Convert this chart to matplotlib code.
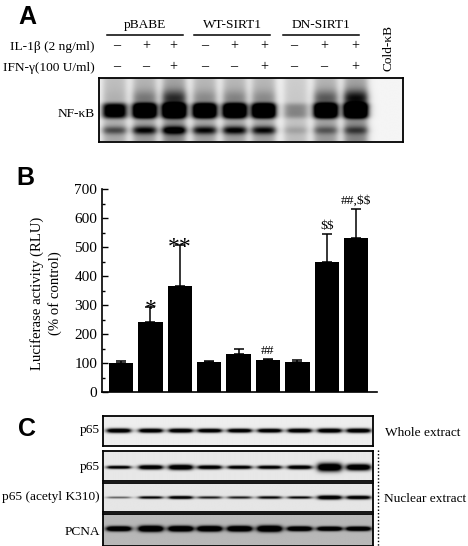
import numpy as np
import matplotlib
matplotlib.use("Agg")
import matplotlib.pyplot as plt

plt.rcParams["font.family"] = ["Liberation Serif", "DejaVu Serif"]

W, H = 468, 546
FS = 9.6

# ---- panel A: EMSA ----
groups = ["pBABE", "WT-SIRT1", "DN-SIRT1"]
il1b = ["–", "+", "+", "–", "+", "+", "–", "+", "+"]
ifng = ["–", "–", "+", "–", "–", "+", "–", "–", "+"]
# band darkness per lane (last lane = cold kB competitor)
gel_main = [0.75, 1.0, 1.0, 1.0, 1.0, 1.0, 0.2, 1.0, 1.0, 0.0]
gel_lower = [0.4, 0.65, 0.8, 0.65, 0.7, 0.65, 0.12, 0.3, 0.35, 0.0]
gel_smear = [0.3, 0.36, 0.45, 0.34, 0.34, 0.34, 0.22, 0.36, 0.45, 0.0]
gel_upper = [0.05, 0.35, 0.75, 0.25, 0.3, 0.25, 0.0, 0.55, 0.95, 0.0]

# ---- panel B: luciferase ----
luc_mean = [101, 243, 365, 105, 131, 110, 102, 450, 532]
luc_err = [7, 50, 143, 2, 19, 5, 8, 96, 98]
luc_sig = ["", "*", "**", "", "", "##", "", "$$", "##,$$"]

# ---- panel C: western blots ----
blot_names = ["p65", "p65", "p65 (acetyl K310)", "PCNA"]
blot_dark = [
    [0.95, 0.95, 0.95, 0.95, 0.95, 0.95, 0.95, 0.95, 0.95],
    [0.85, 0.95, 1.0, 0.9, 0.85, 0.85, 0.9, 1.0, 1.0],
    [0.4, 0.75, 0.9, 0.6, 0.6, 0.7, 0.7, 0.95, 0.9],
    [0.95, 1.0, 1.0, 1.0, 1.0, 1.0, 0.95, 0.95, 0.95],
]
blot_thick = [
    [2.2, 2.1, 2.1, 2.0, 2.0, 2.0, 2.1, 2.2, 2.2],
    [1.6, 2.2, 2.6, 2.0, 1.8, 1.8, 2.0, 4.2, 3.2],
    [1.0, 1.3, 1.5, 1.3, 1.3, 1.4, 1.3, 2.0, 1.8],
    [2.4, 2.9, 2.7, 2.7, 2.7, 3.0, 2.3, 2.1, 2.1],
]
blot_bg = [0.07, 0.09, 0.1, 0.28]


def px_axes(fig, x0, y0, x1, y1):
    ax = fig.add_axes([x0 / W, 1 - y1 / H, (x1 - x0) / W, (y1 - y0) / H])
    ax.set_xlim(x0, x1)
    ax.set_ylim(y1, y0)
    ax.set_xticks([])
    ax.set_yticks([])
    for s in ax.spines.values():
        s.set_linewidth(1.3)
    return ax


def lane_shape(x, c, hw, soft=1.5):
    return 1.0 / (1.0 + np.exp((np.abs(x - c) - hw) / soft))


def txt(fig, x, y, s, **kw):
    fig.text(x / W, 1 - y / H, s, parse_math=False, **kw)


fig = plt.figure(figsize=(W / 100, H / 100), dpi=100)

# panel letters
for letter, (x, y) in zip("ABC", [(27, 17), (25, 178), (27, 429)]):
    txt(fig, x, y, letter, family="Liberation Sans", weight="bold",
        fontsize=18, ha="center", va="center")

# ---- A ----
lane_x = [114, 144, 173.5, 204, 234, 263, 295, 325, 355, 388]
sign_x = [117, 146, 173, 205, 234, 264, 294, 324, 355]
line_spans = [(107, 183), (194, 270), (283, 359)]
for g, (a, b) in zip(groups, line_spans):
    txt(fig, (a + b) / 2, 25, g, fontsize=FS, ha="center", va="center")
    fig.add_artist(plt.Line2D([a / W, b / W], [1 - 35 / H] * 2, color="k", lw=1.1))
txt(fig, 95, 47, "IL-1β (2 ng/ml)", fontsize=FS, ha="right", va="center")
txt(fig, 95, 68, "IFN-γ(100 U/ml)", fontsize=FS, ha="right", va="center")
for x, a, b in zip(sign_x, il1b, ifng):
    txt(fig, x, 46, a, fontsize=FS + 0.6, ha="center", va="center")
    txt(fig, x, 67, b, fontsize=FS + 0.6, ha="center", va="center")
txt(fig, 389, 48, "Cold-κB", fontsize=FS, rotation=90, ha="center", va="center")
txt(fig, 95, 114, "NF-κB", fontsize=FS, ha="right", va="center")

gx0, gy0, gx1, gy1 = 98.5, 78, 403, 141.5
axg = px_axes(fig, gx0, gy0, gx1, gy1)
xx, yy = np.meshgrid(np.linspace(gx0, gx1, 900), np.linspace(gy0, gy1, 200))
dark = np.full(xx.shape, 0.04)
for c, m, lo, sm, up in zip(lane_x, gel_main, gel_lower, gel_smear, gel_upper):
    prof = lane_shape(xx, c, 11.5, 2.0)
    v = sm * (0.7 + 0.3 * (yy - gy0) / (gy1 - gy0))
    v = v + up * 0.6 * np.exp(-((yy - 99) / 8) ** 2)
    v = v + m * 1.3 * np.exp(-((yy - 111.5) / 7.5) ** 4)
    v = v + lo * np.exp(-((yy - 131) / 4.0) ** 2)
    dark = dark + prof * v
img = 1 - np.clip(dark, 0, 1)
axg.imshow(img, cmap="gray", vmin=0, vmax=1, aspect="auto",
           extent=(gx0, gx1, gy1, gy0), interpolation="bilinear")
axg.set_xlim(gx0, gx1)
axg.set_ylim(gy1, gy0)

# ---- B ----
axb = fig.add_axes([101.5 / W, 1 - 392 / H, (377 - 101.5) / W, (392 - 189) / H])
pos = np.arange(1, len(luc_mean) + 1)
axb.bar(pos, luc_mean, width=0.83, color="k", zorder=2)
axb.errorbar(pos, luc_mean, yerr=[np.zeros(len(luc_err)), luc_err], fmt="none",
             ecolor="k", elinewidth=1.1, capsize=3.5, capthick=1.1, zorder=3)
for p, m, e, s in zip(pos, luc_mean, luc_err, luc_sig):
    if not s:
        continue
    if "*" in s:
        axb.annotate(s, (p, m + e), xytext=(0, -6), textcoords="offset points",
                     ha="center", va="baseline", fontsize=17, parse_math=False)
    else:
        axb.annotate(s, (p, m + e), xytext=(0, 1.5), textcoords="offset points",
                     ha="center", va="bottom", fontsize=FS, parse_math=False)
axb.set_xlim(0.34, 9.71)
axb.set_ylim(0, 700)
axb.set_yticks(range(0, 701, 100))
axb.set_yticks(range(50, 700, 100), minor=True)
axb.set_xticks([])
axb.set_xticks(np.arange(1.5, 10, 1), minor=True)
axb.tick_params(axis="y", which="major", direction="in", length=4.5, width=1, labelsize=11, pad=3)
axb.tick_params(axis="y", which="minor", direction="in", length=2.5, width=1)
axb.tick_params(axis="x", which="minor", direction="in", length=2.5, width=1, colors="w")
axb.spines["top"].set_visible(False)
axb.spines["right"].set_visible(False)
axb.spines["left"].set_linewidth(1.2)
axb.spines["bottom"].set_linewidth(1.2)
txt(fig, 37, 293, "Luciferase activity (RLU)", fontsize=10.6, rotation=90, ha="center", va="center")
txt(fig, 55, 293, "(% of control)", fontsize=10.6, rotation=90, ha="center", va="center")

# ---- C ----
blot_lane_x = [119, 151, 181, 210, 240, 270, 300, 330, 359]
strips = [(416, 445.7, 430.5), (450.7, 480.7, 467), (483.3, 511.7, 497.5), (514, 545.5, 529.5)]
label_y = [430, 467, 497, 532]
bx0, bx1 = 103.3, 373.3
for (y0, y1, yc), name, ly, dk, th, bg in zip(strips, blot_names, label_y,
                                             blot_dark, blot_thick, blot_bg):
    ax = px_axes(fig, bx0, y0, bx1, y1)
    xx, yy = np.meshgrid(np.linspace(bx0, bx1, 800), np.linspace(y0, y1, 120))
    dark = np.full(xx.shape, bg)
    for c, d, t in zip(blot_lane_x, dk, th):
        dark = dark + lane_shape(xx, c, 11.5, 1.8) * d * 1.4 * np.exp(-((yy - yc) / t) ** 2)
    img = 1 - np.clip(dark, 0, 1)
    ax.imshow(img, cmap="gray", vmin=0, vmax=1, aspect="auto",
              extent=(bx0, bx1, y1, y0), interpolation="bilinear")
    ax.set_xlim(bx0, bx1)
    ax.set_ylim(y1, y0)
    txt(fig, 100, ly, name, fontsize=FS, ha="right", va="center")

txt(fig, 385, 433, "Whole extract", fontsize=FS, ha="left", va="center")
txt(fig, 384, 499, "Nuclear extract", fontsize=FS, ha="left", va="center")
fig.add_artist(plt.Line2D([378 / W] * 2, [1 - 450 / H, 0], color="k", lw=1, ls=(0, (1, 1.5))))

fig.savefig("out.png", dpi=100)
